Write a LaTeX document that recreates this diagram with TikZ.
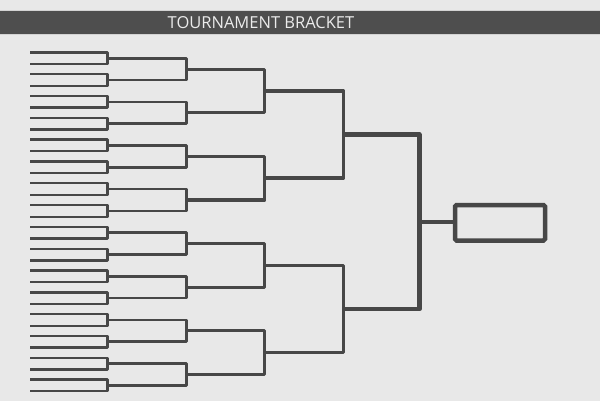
\documentclass[tikz,border=0pt]{standalone}
\usepackage{fontspec}
\setmainfont{Open Sans}
\definecolor{bg}{HTML}{E8E8E8}
\definecolor{ink}{HTML}{474747}
\definecolor{titlebar}{HTML}{4E4E4E}
\tikzset{
  bracketline/.style={draw=ink, line join=round},
  champbox/.style={draw=ink, line width=4.5pt, rounded corners=1.5pt, inner sep=0pt, outer sep=0pt,
    minimum width=90pt, minimum height=35.5pt}
}
\begin{document}
\begin{tikzpicture}[x=1pt,y=-1pt]
    \fill[bg] (0,0) rectangle (600,401);
    \useasboundingbox (0,0) rectangle (600,401);

    % title bar
    \fill[titlebar] (0,10) rectangle (600,35);
    \draw[white!75!titlebar, line width=0.8pt] (0,10.4) -- (600,10.4);
    \draw[white!75!titlebar, line width=0.8pt] (0,34.6) -- (600,34.6);
    \node[text=white!92!black, font=\fontsize{16.5}{18}\selectfont] (title) at (261,23) {TOURNAMENT BRACKET};

    % rounds: start x / end x / first y / gap in pair / pitch / last pair / width
    \foreach \xa/\xb/\top/\gap/\pitch/\last/\w in {
        30/107.5/52.5/11.6/21.8/15/2.4,
        107.5/186.8/58.3/21.8/43.6/7/2.7,
        186.8/264.8/69.2/43.6/87.2/3/3.2,
        264.8/343.5/91/87.2/174.4/1/3.6,
        343.5/419.3/134.6/174.4/0/0/4.6} {
        \foreach \k in {0,...,\last} {
            \pgfmathsetmacro{\ya}{\top+\k*\pitch}
            \pgfmathsetmacro{\yb}{\ya+\gap}
            \draw[bracketline, line width=\w pt] (\xa,\ya) -- (\xb,\ya) -- (\xb,\yb) -- (\xa,\yb);
        }
    }

    % final
    \coordinate (semi) at (419.3,221.8);
    \node[champbox] (champ) at (500,222.75) {};
    \draw[bracketline, line width=4pt] (semi) -- (champ.west |- semi);
\end{tikzpicture}
\end{document}
